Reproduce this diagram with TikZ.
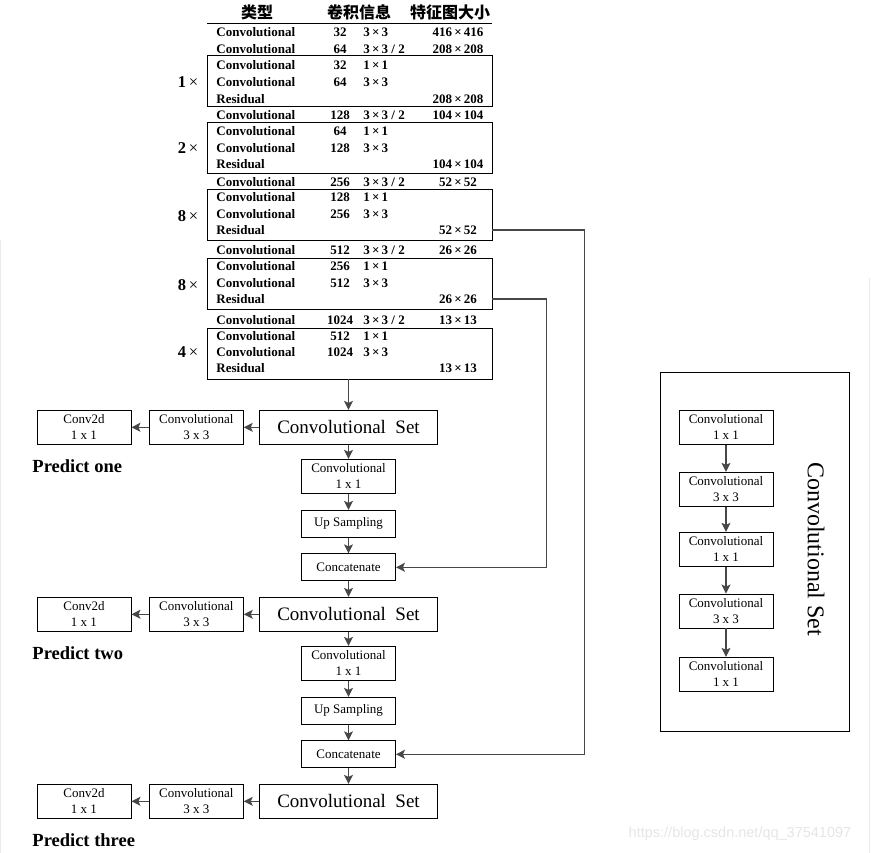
\documentclass[tikz,border=0pt]{standalone}
\usepackage{fontspec}
\setmainfont{Liberation Serif}
\newfontfamily\cjk{Noto Sans CJK SC}
\newfontfamily\wmfont{Liberation Sans}
\usetikzlibrary{arrows.meta}

\begin{document}
\begin{tikzpicture}[x=1pt,y=-1pt,line width=0.9pt,
		tab/.style={font=\fontsize{13}{15}\selectfont\bfseries,inner sep=0pt},
		resbox/.style={draw,minimum width=285pt,minimum height=51pt,inner sep=0pt},
		blk/.style={draw,minimum width=94pt,minimum height=34pt,inner sep=0pt,align=center,font=\fontsize{13}{16}\selectfont},
		setbox/.style={draw,minimum width=178pt,minimum height=34pt,inner sep=0pt,font=\fontsize{19}{22}\selectfont},
		arr/.style={draw=black!72,line width=1.2pt,-{Stealth[length=9pt,width=9pt,inset=2pt]}},
		pred/.style={anchor=west,inner sep=0pt,font=\fontsize{18.5}{22}\selectfont\bfseries}]
			\useasboundingbox (0,0) rectangle (871,853);
			% 边框
			\draw[black!8] (0.5,240) -- (0.5,853);
			\draw[black!8] (869.5,278) -- (869.5,853);
			% 表头
			\node[font=\cjk\fontsize{16}{18}\selectfont\bfseries] (h1) at (257,12) {类型};
			\node[font=\cjk\fontsize{16}{18}\selectfont\bfseries] (h2) at (359,12) {卷积信息};
			\node[font=\cjk\fontsize{16}{18}\selectfont\bfseries] (h3) at (450,12) {特征图大小};
			\draw (207,23) -- (492,23);
			% 残差块
			\foreach \y [count=\i] in {81,148,215,283.5,353.5}
				\node[resbox] (res\i) at (349.5,\y) {};
			\foreach \y/\m [count=\i] in {82/1,148/2,216/8,285/8,352/4}
				\node[font=\fontsize{16.5}{18}\selectfont] (m\i) at (188,\y) {\textbf{\m}\,×};
			% 表格内容
			\foreach \y/\a/\b/\c/\d [count=\i] in {
				32/Convolutional/32/3\,×\,3/416\,×\,416,
				49/Convolutional/64/3\,×\,3 \slash\ 2/208\,×\,208,
				65/Convolutional/32/1\,×\,1/{},
				82/Convolutional/64/3\,×\,3/{},
				99/Residual/{}/{}/208\,×\,208,
				115/Convolutional/128/3\,×\,3 \slash\ 2/104\,×\,104,
				131/Convolutional/64/1\,×\,1/{},
				148/Convolutional/128/3\,×\,3/{},
				164/Residual/{}/{}/104\,×\,104,
				182/Convolutional/256/3\,×\,3 \slash\ 2/52\,×\,52,
				197/Convolutional/128/1\,×\,1/{},
				214/Convolutional/256/3\,×\,3/{},
				230/Residual/{}/{}/52\,×\,52,
				250/Convolutional/512/3\,×\,3 \slash\ 2/26\,×\,26,
				266/Convolutional/256/1\,×\,1/{},
				283/Convolutional/512/3\,×\,3/{},
				299/Residual/{}/{}/26\,×\,26,
				320/Convolutional/1024/3\,×\,3 \slash\ 2/13\,×\,13,
				336/Convolutional/512/1\,×\,1/{},
				352/Convolutional/1024/3\,×\,3/{},
				368/Residual/{}/{}/13\,×\,13}{
				\node[tab,anchor=west] (t\i) at (216,\y) {\a};
				\node[tab] (n\i) at (340,\y) {\b};
				\node[tab,anchor=west] (k\i) at (363,\y) {\c};
				\node[tab] (s\i) at (458,\y) {\d};
			}
			% 三个输出分支
			\foreach \y/\w [count=\i] in {427.3/one,614.3/two,801.3/three}{
				\node[setbox] (set\i) at (348.5,\y) {Convolutional\ \ Set};
				\node[blk] (cv\i) at (196.3,\y) {Convolutional\\3 x 3};
				\node[blk] (out\i) at (84,\y) {Conv2d\\1 x 1};
				\node[pred] (p\i) at (32,\y+39) {Predict \w};
				\draw[arr] (set\i) -- (cv\i);
				\draw[arr] (cv\i) -- (out\i);
			}
			\draw[arr] (res5.south -| set1) -- (set1);
			% 上采样
			\foreach \y/\j [count=\i] in {427.3/2,614.3/3}{
				\node[blk] (c1\i) at (348.5,\y+49) {Convolutional\\1 x 1};
				\node[blk,minimum height=27pt] (up\i) at (348.5,\y+96.5) {Up Sampling};
				\node[blk,minimum height=27pt] (cat\i) at (348.5,\y+140) {Concatenate};
				\draw[arr] (set\i) -- (c1\i);
				\draw[arr] (c1\i) -- (up\i);
				\draw[arr] (up\i) -- (cat\i);
				\draw[arr] (cat\i) -- (set\j);
			}
			\draw[arr] (res3.east |- t13) -- ++(92,0) |- (cat2);
			\draw[arr] (res4.east |- t17) -- ++(54,0) |- (cat1);
			% Convolutional Set 结构
			\node[draw,minimum width=188.3pt,minimum height=358.3pt] (frame) at (754.85,551.85) {};
			\foreach \y/\k [count=\i] in {427.3/1 x 1,489.3/3 x 3,549.3/1 x 1,611/3 x 3,674.3/1 x 1}
				\node[blk] (cs\i) at (726,\y) {Convolutional\\\k};
			\foreach \i/\j in {1/2,2/3,3/4,4/5}
				\draw[arr] (cs\i) -- (cs\j);
			\node[rotate=-90,font=\fontsize{24}{28}\selectfont] (cstitle) at (816,549) {Convolutional Set};
			% 水印
			\node[font=\wmfont\fontsize{14.5}{17}\selectfont,text=black!10] (wm) at (740,834) {https://blog.csdn.net/qq\_37541097};
		\end{tikzpicture}
\end{document}
